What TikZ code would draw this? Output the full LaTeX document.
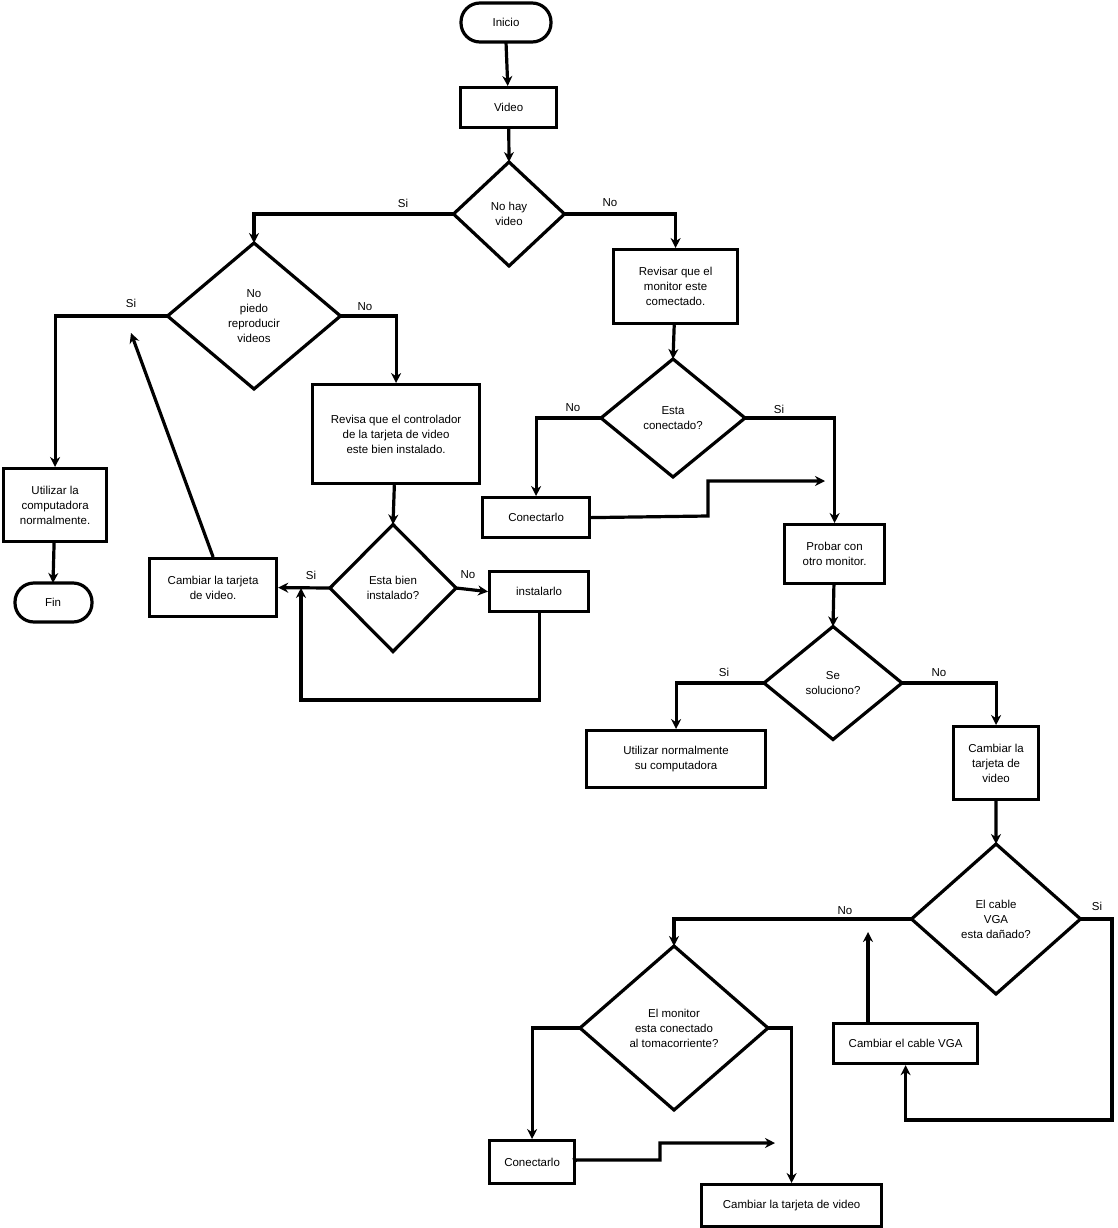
\documentclass[tikz,border=0pt]{standalone}
\usepackage{fontspec}
\setmainfont{Liberation Sans}
\usetikzlibrary{arrows.meta}
\newcommand{\dia}[6]{%
  \coordinate (#1-n) at (#2,#3-#5/2);
  \coordinate (#1-s) at (#2,#3+#5/2);
  \coordinate (#1-w) at (#2-#4/2,#3);
  \coordinate (#1-e) at (#2+#4/2,#3);
  \draw[ln] (#1-n)--(#1-e)--(#1-s)--(#1-w)--cycle;
  \node[txt] (#1) at (#2,#3) {#6};}
\begin{document}
\begin{tikzpicture}[x=1pt,y=-1pt,
  ln/.style={line width=3.2pt,line join=miter},
  txt/.style={font=\fontsize{11.5}{15}\selectfont,align=center},
  box/.style={draw,ln,txt,anchor=north west,inner sep=0pt},
  ar/.style={ln,-{Stealth[length=10pt,width=10pt]}},
  lab/.style={font=\fontsize{11.5}{14}\selectfont}]
\useasboundingbox[fill=white] (0,0) rectangle (1117,1228);
% terminals
\draw[ln,rounded corners=19pt] (461,3) rectangle (551,42);
\node[txt] (inicio) at (506,22) {Inicio};
\coordinate (inicio-s) at (506,42);
\draw[ln,rounded corners=19pt] (15,583) rectangle (92,622);
\node[txt] (fin) at (53,602) {Fin};
\coordinate (fin-n) at (53,583);
% boxes
\node[box,minimum width=96pt,minimum height=40pt] (video) at (459,86) {Video};
\node[box,minimum width=124pt,minimum height=74pt] (revisar) at (612,248) {Revisar que el\\monitor este\\comectado.};
\node[box,minimum width=103pt,minimum height=73pt] (util1) at (2,467) {Utilizar la\\computadora\\normalmente.};
\node[box,minimum width=167pt,minimum height=99pt] (revisa) at (311,383) {Revisa que el controlador\\de la tarjeta de video\\este bien instalado.};
\node[box,minimum width=127pt,minimum height=58pt] (cambiar1) at (148,557) {Cambiar la tarjeta\\de video.};
\node[box,minimum width=99pt,minimum height=40pt] (instalar) at (488,570) {instalarlo};
\node[box,minimum width=107pt,minimum height=40pt] (conect1) at (481,496) {Conectarlo};
\node[box,minimum width=100pt,minimum height=59pt] (probar) at (783,523) {Probar con\\otro monitor.};
\node[box,minimum width=179pt,minimum height=57pt] (util2) at (585,729) {Utilizar normalmente\\su computadora};
\node[box,minimum width=85pt,minimum height=73pt] (cambiar2) at (952,725) {Cambiar la\\tarjeta de\\video};
\node[box,minimum width=144pt,minimum height=40pt] (cable) at (832,1022) {Cambiar el cable VGA};
\node[box,minimum width=85pt,minimum height=43pt] (conect2) at (488,1139) {Conectarlo};
\node[box,minimum width=180pt,minimum height=42pt] (cambiar3) at (700,1183) {Cambiar la tarjeta de video};
% diamonds
\dia{d1}{509}{214}{111}{104}{No hay\\video}
\dia{d2}{254}{316}{173}{146}{No\\piedo\\reproducir\\videos}
\dia{d3}{393}{588}{126}{127}{Esta bien\\instalado?}
\dia{d4}{673}{418}{144}{118}{Esta\\conectado?}
\dia{d5}{833}{683}{138}{113}{Se\\soluciono?}
\dia{d6}{996}{919}{169}{150}{El cable\\VGA\\esta dañado?}
\dia{d7}{674}{1028}{188}{164}{El monitor\\esta conectado\\al tomacorriente?}
% connectors
\draw[ar] (inicio-s) -- (video);
\draw[ar] (video) -- (d1-n);
\draw[ar] (d1-w) -| (d2-n);
\draw[ar] (d1-e) -| (revisar.north);
\node[lab] at (403,203) {Si};
\node[lab] at (610,203) {No};
\draw[ar] (d2-w) -| (util1.north);
\draw[ar] (d2-e) -| (revisa.north);
\node[lab] at (131,303) {Si};
\node[lab] at (365,307) {No};
\draw[ar] (util1) -- (fin-n);
\draw[ar] (revisa) -- (d3-n);
\draw[ar] (d3-w) -- (cambiar1.east);
\draw[ar] (d3-e) -- (instalar.west);
\node[lab] at (311,575) {Si};
\node[lab] at (468,575) {No};
\coordinate (loopend) at (301,588);
\draw[ar] (instalar.south) |- (301,700) -- (loopend);
\coordinate (up1) at (131,333);
\draw[ar] (cambiar1.north) -- (up1);
\draw[ar] (revisar) -- (d4-n);
\draw[ar] (d4-w) -| (conect1.north);
\draw[ar] (d4-e) -| (probar.north);
\node[lab] at (573,408) {No};
\node[lab] at (779,409) {Si};
\coordinate (j1) at (825,481);
\draw[ar] (conect1.east) -- (708,516) -- (708,481) -- (j1);
\draw[ar] (probar) -- (d5-n);
\draw[ar] (d5-w) -| (util2.north);
\draw[ar] (d5-e) -| (cambiar2.north);
\node[lab] at (724,672) {Si};
\node[lab] at (939,673) {No};
\draw[ar] (cambiar2) -- (d6-n);
\draw[ar] (d6-w) -| (d7-n);
\node[lab] at (845,911) {No};
\node[lab] at (1097,906) {Si};
\draw[ar] (d6-e) -- (1112,919) -- (1112,1120) -| (cable.south);
\coordinate (j2) at (868,932);
\draw[ar] (868,1022) -- (j2);
\draw[ar] (d7-w) -| (conect2.north);
\draw[ar] (d7-e) -| (cambiar3.north);
\coordinate (j3) at (775,1143);
\draw[ar] (conect2.east) -- (575,1160) -- (660,1160) -- (660,1143) -- (j3);
\end{tikzpicture}
\end{document}
